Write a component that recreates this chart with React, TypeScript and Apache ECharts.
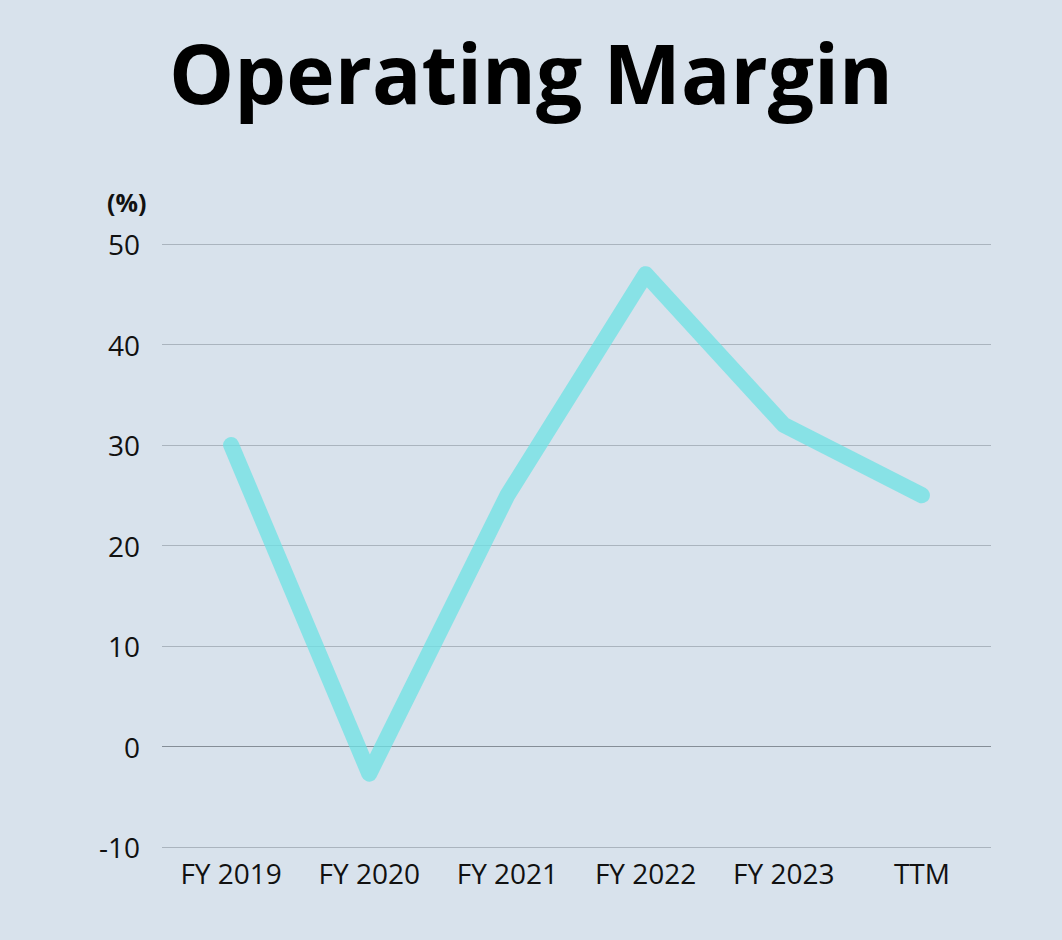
import React, { useEffect, useRef } from "react";
import * as echarts from "echarts";

const categories = ["FY 2019", "FY 2020", "FY 2021", "FY 2022", "FY 2023", "TTM"];
const marginValues = [30, -2.7, 25, 47, 32, 25];
const yMin = -10;
const yMax = 50;
const yInterval = 10;

const FONT = "'Open Sans', 'Noto Sans', sans-serif";

export default function App() {
  const ref = useRef<HTMLDivElement>(null);
  useEffect(() => {
    if (!ref.current) return;
    const chart = echarts.init(ref.current, null, { renderer: "svg" });
    const light = "#aab4be";
    const dark = "#858e97";
    chart.setOption({
      animation: false,
      backgroundColor: "#d8e2ec",
      title: {
        text: "Operating Margin",
        left: "center",
        top: 26,
        textStyle: { fontFamily: FONT, fontSize: 82, fontWeight: "bold", color: "#000" },
      },
      graphic: [
        {
          type: "text",
          left: 107,
          top: 189,
          style: { text: "(%)", fontFamily: FONT, fontSize: 25, fontWeight: "bold", fill: "#111" },
        },
      ],
      grid: { left: 162, right: 71, top: 244, bottom: 93, containLabel: false },
      xAxis: {
        type: "category",
        data: categories,
        boundaryGap: true,
        axisLine: { show: false },
        axisTick: { show: false },
        axisLabel: { fontFamily: FONT, fontSize: 28, color: "#111", margin: 12 },
      },
      yAxis: {
        type: "value",
        min: yMin,
        max: yMax,
        interval: yInterval,
        axisLine: { show: false },
        axisTick: { show: false },
        axisLabel: { fontFamily: FONT, fontSize: 28, color: "#111", margin: 22 },
        splitLine: {
          show: true,
          lineStyle: { color: [light, dark, light, light, light, light, light], width: 1.2 },
        },
      },
      series: [
        {
          type: "line",
          data: marginValues,
          symbol: "none",
          lineStyle: { color: "rgba(110,225,228,0.75)", width: 16, cap: "round", join: "round" },
        },
      ],
    });
    return () => chart.dispose();
  }, []);
  return <div ref={ref} style={{ position: "fixed", left: 0, top: 0, width: 1062, height: 940 }} />;
}
